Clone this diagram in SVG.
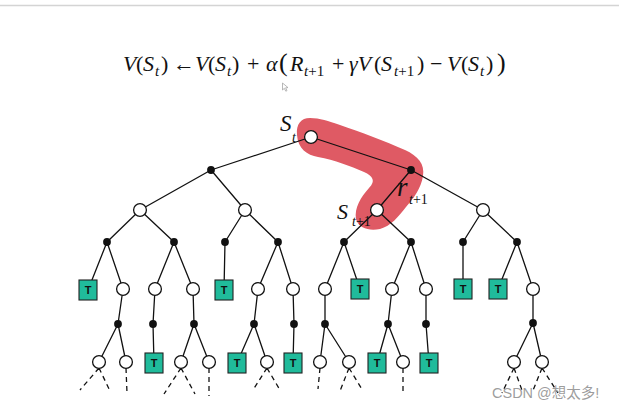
<svg xmlns="http://www.w3.org/2000/svg" width="619" height="411" viewBox="0 0 619 411">
<style>
.e{stroke:#111;stroke-width:1.3;fill:none}
.d{stroke:#111;stroke-width:1.3;fill:none;stroke-dasharray:5 4}
.c{fill:#fff;stroke:#111;stroke-width:1.3}
.k{fill:#111}
.t{fill:#20bb9b;stroke:#222;stroke-width:1.1}
.tl{font-family:"Liberation Sans",Arial,sans-serif;font-weight:bold;font-size:11px;fill:#111;text-anchor:middle}
.m{font-family:"Liberation Serif","Times New Roman",serif;font-size:22px;fill:#111}
.i{font-style:italic}
.s{font-size:15px}
.lb{font-family:"Liberation Serif","Times New Roman",serif;fill:#111}
</style>
<defs>
<circle id="oc" r="6.4" class="c"/>
<circle id="bd" r="3.9" class="k"/>
<g id="tb"><rect x="-9" y="-10" width="18" height="20" class="t"/><text y="4" class="tl">T</text></g>
</defs>
<rect width="619" height="411" fill="#fff"/>
<line x1="0" y1="5.5" x2="619" y2="5.5" stroke="#d4d4d4" stroke-width="1.5"/>

<g id="formula">
<text class="m" y="71"><tspan x="123" class="i">V</tspan><tspan x="136">(</tspan><tspan x="143" class="i">S</tspan><tspan x="155" y="76" class="s i">t</tspan><tspan x="161" y="71">)</tspan><tspan x="173">←</tspan><tspan x="195" class="i">V</tspan><tspan x="208">(</tspan><tspan x="215" class="i">S</tspan><tspan x="227" y="76" class="s i">t</tspan><tspan x="232" y="71">)</tspan><tspan x="247">+</tspan><tspan x="266" class="i">α</tspan><tspan x="279" font-size="26">(</tspan><tspan x="290" class="i">R</tspan><tspan x="304" y="76" class="s"><tspan class="i">t</tspan>+1</tspan><tspan x="332" y="71">+</tspan><tspan x="349" class="i">γV</tspan><tspan x="374">(</tspan><tspan x="381" class="i">S</tspan><tspan x="394" y="76" class="s"><tspan class="i">t</tspan>+1</tspan><tspan x="417" y="71">)</tspan><tspan x="430">−</tspan><tspan x="447" class="i">V</tspan><tspan x="461">(</tspan><tspan x="468" class="i">S</tspan><tspan x="480" y="76" class="s i">t</tspan><tspan x="486" y="71">)</tspan><tspan x="497" font-size="26">)</tspan></text>
</g>
<path id="cursor" d="M282.5,83 L282.5,90 L284.3,88.3 L285.8,91.2 L287,90.6 L285.6,87.8 L288,87.6 Z" fill="#fff" stroke="#9a9a9a" stroke-width="0.7"/>

<path id="highlight" d="M297,135 C296,124 301,118 310,118 C320,118 328,121 340,125 C360,132 385,141 405,150 C418,156 425,164 423,176 C421,188 414,198 406,207 C398,217 391,226 380,229 C370,231 359,229 356,219 C354,208 361,197 369,188 C376,181 373,176 364,172 C350,166 335,160 318,157 C307,155 298,149 297,135 Z" fill="#df5a64"/>

<g id="connectors">
<path class="e" d="M311,137L211,170M311,137L411,170
M211,170L140,210M211,170L245,210M411,170L377,210M411,170L483,210
M140,210L107,242M140,210L174,242M245,210L225,242M245,210L278,242M377,210L344,242M377,210L411,242M483,210L463,242M483,210L517,242
M107,242L88,290M107,242L123,289M174,242L155,289M174,242L193,289M225,242L224,290M278,242L258,289M278,242L293,289
M344,242L325,289M344,242L360,289M411,242L392,289M411,242L426,289M463,242L463,289M517,242L498,289M517,242L533,289
M123,289L118,324M155,289L153,324M193,289L194,324M258,289L254,324M293,289L294,324M325,289L325,324M392,289L388,324M426,289L426,324M533,289L533,323
M118,324L99,362M118,324L126,362M153,324L154,363M194,324L181,362M194,324L209,362M254,324L237,363M254,324L267,362M294,324L293,363
M325,324L320,362M325,324L349,362M388,324L377,363M388,324L403,362M426,324L429,363M533,323L514,362M533,323L542,362"/>
<path class="d" d="M99,368L80,390M99,368L110,391M126,368L127,393M181,368L164,394M181,368L195,394M209,368L209,396M267,368L253,390M267,368L280,390
M320,368L318,389M349,368L340,391M349,368L363,391M403,368L403,391M514,368L502,393M514,368L523,393M542,368L532,393M542,368L558,393"/>
</g>

<g id="n-root"><use href="#oc" x="311" y="137"/></g>
<g id="n-a"><use href="#bd" x="211" y="170"/></g>
<g id="n-b"><use href="#bd" x="411" y="170"/></g>
<g id="n-a1"><use href="#oc" x="140" y="210"/></g>
<g id="n-a2"><use href="#oc" x="245" y="210"/></g>
<g id="n-b1"><use href="#oc" x="377" y="210"/></g>
<g id="n-b2"><use href="#oc" x="483" y="210"/></g>
<g id="n-a1a"><use href="#bd" x="107" y="242"/></g>
<g id="n-a1b"><use href="#bd" x="174" y="242"/></g>
<g id="n-a2a"><use href="#bd" x="225" y="242"/></g>
<g id="n-a2b"><use href="#bd" x="278" y="242"/></g>
<g id="n-b1a"><use href="#bd" x="344" y="242"/></g>
<g id="n-b1b"><use href="#bd" x="411" y="242"/></g>
<g id="n-b2a"><use href="#bd" x="463" y="242"/></g>
<g id="n-b2b"><use href="#bd" x="517" y="242"/></g>
<g id="t1"><use href="#tb" x="88" y="290"/></g>
<g id="c1"><use href="#oc" x="123" y="289"/></g>
<g id="c2"><use href="#oc" x="155" y="289"/></g>
<g id="c3"><use href="#oc" x="193" y="289"/></g>
<g id="t2"><use href="#tb" x="224" y="290"/></g>
<g id="c4"><use href="#oc" x="258" y="289"/></g>
<g id="c5"><use href="#oc" x="293" y="289"/></g>
<g id="c6"><use href="#oc" x="325" y="289"/></g>
<g id="t3"><use href="#tb" x="360" y="289"/></g>
<g id="c7"><use href="#oc" x="392" y="289"/></g>
<g id="c8"><use href="#oc" x="426" y="289"/></g>
<g id="t4"><use href="#tb" x="463" y="289"/></g>
<g id="t5"><use href="#tb" x="498" y="289"/></g>
<g id="c9"><use href="#oc" x="533" y="289"/></g>
<g id="d1"><use href="#bd" x="118" y="324"/></g>
<g id="d2"><use href="#bd" x="153" y="324"/></g>
<g id="d3"><use href="#bd" x="194" y="324"/></g>
<g id="d4"><use href="#bd" x="254" y="324"/></g>
<g id="d5"><use href="#bd" x="294" y="324"/></g>
<g id="d6"><use href="#bd" x="325" y="324"/></g>
<g id="d7"><use href="#bd" x="388" y="324"/></g>
<g id="d8"><use href="#bd" x="426" y="324"/></g>
<g id="d9"><use href="#bd" x="533" y="323"/></g>
<g id="e1"><use href="#oc" x="99" y="362"/></g>
<g id="e2"><use href="#oc" x="126" y="362"/></g>
<g id="t6"><use href="#tb" x="154" y="363"/></g>
<g id="e3"><use href="#oc" x="181" y="362"/></g>
<g id="e4"><use href="#oc" x="209" y="362"/></g>
<g id="t7"><use href="#tb" x="237" y="363"/></g>
<g id="e5"><use href="#oc" x="267" y="362"/></g>
<g id="t8"><use href="#tb" x="293" y="363"/></g>
<g id="e6"><use href="#oc" x="320" y="362"/></g>
<g id="e7"><use href="#oc" x="349" y="362"/></g>
<g id="t9"><use href="#tb" x="377" y="363"/></g>
<g id="e8"><use href="#oc" x="403" y="362"/></g>
<g id="t10"><use href="#tb" x="429" y="363"/></g>
<g id="e9"><use href="#oc" x="514" y="362"/></g>
<g id="e10"><use href="#oc" x="542" y="362"/></g>

<g id="labels">
<text class="lb i" x="280" y="131" font-size="23">S</text>
<text class="lb i" x="292" y="142" font-size="14">t</text>
<text class="lb i" x="337" y="219" font-size="22">S</text>
<text class="lb" x="352" y="226" font-size="14"><tspan class="i">t</tspan>+1</text>
<text class="lb i" x="397" y="196" font-size="27">r</text>
<text class="lb" x="409" y="204" font-size="14"><tspan class="i">t</tspan>+1</text>
</g>
<text id="watermark" x="492" y="398" font-family="'Liberation Sans','Noto Sans CJK SC',sans-serif" font-size="14.5" fill="#8c8c8c" fill-opacity="0.85">CSDN @想太多!</text>
</svg>
